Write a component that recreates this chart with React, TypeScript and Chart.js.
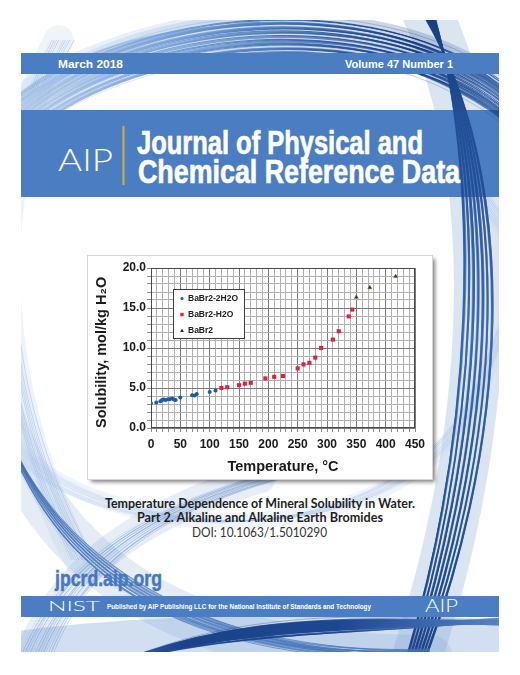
import React, { useEffect, useRef } from "react";
import { Chart, registerables } from "chart.js";

Chart.register(...registerables);

// ---------- data ----------
const dihydrateT = [0, 9, 16, 19, 22, 25, 29, 32, 36, 39, 42, 50, 70, 74, 78, 100, 110];
const dihydrateS = [3.1, 3.2, 3.35, 3.5, 3.55, 3.5, 3.6, 3.6, 3.7, 3.55, 3.5, 3.8, 4.1, 4.05, 4.25, 4.5, 4.7];

const monohydrateT = [120, 130, 150, 160, 170, 195, 210, 225, 250, 260, 270, 280, 290, 310, 320, 337, 343];
const monohydrateS = [5.0, 5.1, 5.35, 5.55, 5.65, 6.2, 6.4, 6.5, 7.45, 7.95, 8.15, 8.8, 10.0, 11.05, 12.1, 13.95, 14.8];

const anhydrousT = [350, 373, 417];
const anhydrousS = [16.35, 17.55, 18.95];

const seriesLabels = ["BaBr2-2H2O", "BaBr2-H2O", "BaBr2"];
const xTickLabels = [0, 50, 100, 150, 200, 250, 300, 350, 400, 450];
const yTickLabels = ["0.0", "5.0", "10.0", "15.0", "20.0"];

const FONT = "'Liberation Sans', Arial, Helvetica, sans-serif";
const GEO = "Lato, 'Noto Sans', sans-serif";

const BLUE = "#1f5c9e";
const RED = "#e0203c";
const DARK = "#2b2b22";
const BAND = "#4a7dc1";

const gridColor = (ctx: any) =>
  ctx.tick && Math.round(ctx.tick.value) % 50 === 0 ? "#7a7a7a" : "#b0b0b0";
const gridColorY = (ctx: any) =>
  ctx.tick && Math.round(ctx.tick.value) % 5 === 0 ? "#7a7a7a" : "#b0b0b0";

const frame = {
  id: "frame",
  beforeDatasetsDraw(chart: any) {
    const { ctx, chartArea: a } = chart;
    ctx.save();
    ctx.strokeStyle = "#4a4a4a";
    ctx.lineWidth = 1;
    ctx.strokeRect(Math.round(a.left) + 0.5, Math.round(a.top) + 0.5, Math.round(a.right - a.left) - 1, Math.round(a.bottom - a.top) - 1);
    ctx.restore();
  },
};

const legendBox = {
  id: "legendBox",
  afterDatasetsDraw(chart: any) {
    const { ctx, chartArea: a } = chart;
    const x = Math.round(a.left) + 22;
    const y = Math.round(a.top) + 21;
    const w = 71;
    const h = 49;
    ctx.save();
    ctx.fillStyle = "#ffffff";
    ctx.fillRect(x, y, w, h);
    ctx.strokeStyle = "#3c3c3c";
    ctx.lineWidth = 1;
    ctx.strokeRect(x + 0.5, y + 0.5, w, h);
    chart.data.datasets.forEach((ds: any, i: number) => {
      const cy = y + 9.5 + i * 16;
      const mx = x + 9;
      ctx.fillStyle = ds.backgroundColor;
      ctx.beginPath();
      if (ds.pointStyle === "circle") {
        ctx.arc(mx, cy, 1.6, 0, Math.PI * 2);
      } else if (ds.pointStyle === "rect") {
        ctx.rect(mx - 1.7, cy - 1.7, 3.4, 3.4);
      } else {
        ctx.moveTo(mx, cy - 2);
        ctx.lineTo(mx + 1.9, cy + 1.5);
        ctx.lineTo(mx - 1.9, cy + 1.5);
        ctx.closePath();
      }
      ctx.fill();
      ctx.fillStyle = "#222";
      ctx.font = `bold 8.5px ${FONT}`;
      ctx.textBaseline = "middle";
      ctx.textAlign = "left";
      ctx.fillText(ds.label, x + 15, cy);
    });
    ctx.restore();
  },
};

function SolubilityChart() {
  const ref = useRef<HTMLCanvasElement>(null);
  useEffect(() => {
    if (!ref.current) return;
    const chart = new Chart(ref.current, {
      type: "scatter",
      data: {
        datasets: [
          {
            label: seriesLabels[0],
            data: dihydrateT.map((t, i) => ({ x: t, y: dihydrateS[i] })),
            pointStyle: "circle",
            pointRadius: 2,
            backgroundColor: BLUE,
            borderColor: BLUE,
            borderWidth: 0,
          },
          {
            label: seriesLabels[1],
            data: monohydrateT.map((t, i) => ({ x: t, y: monohydrateS[i] })),
            pointStyle: "rect",
            pointRadius: 2.9,
            backgroundColor: RED,
            borderColor: RED,
            borderWidth: 0,
          },
          {
            label: seriesLabels[2],
            data: anhydrousT.map((t, i) => ({ x: t, y: anhydrousS[i] })),
            pointStyle: "triangle",
            pointRadius: 2.3,
            backgroundColor: DARK,
            borderColor: "#6b6b2a",
            borderWidth: 0.5,
          },
        ],
      } as any,
      options: {
        animation: false,
        responsive: false,
        layout: { padding: { left: 0, right: 17, top: 12, bottom: 0 } },
        plugins: { legend: { display: false }, tooltip: { enabled: false } },
        scales: {
          x: {
            type: "linear",
            min: 0,
            max: 450,
            afterFit: (s: any) => {
              s.height = 51;
            },
            ticks: {
              stepSize: 10,
              autoSkip: false,
              maxRotation: 0,
              padding: 5,
              color: "#1a1a1a",
              font: { family: FONT, size: 12, weight: "bold" },
              callback: (v: any) => (xTickLabels.includes(Math.round(v)) ? String(Math.round(v)) : ""),
            },
            grid: { color: gridColor, lineWidth: 1, tickLength: 4, tickColor: "#8a8a8a" },
            border: { display: false },
            title: {
              display: true,
              text: "Temperature, °C",
              color: "#1a1a1a",
              font: { family: FONT, size: 14.5, weight: "bold" },
              padding: { top: 0, bottom: 3 },
            },
          },
          y: {
            type: "linear",
            min: 0,
            max: 20,
            afterFit: (s: any) => {
              s.width = 63;
            },
            ticks: {
              stepSize: 1,
              autoSkip: false,
              padding: 1,
              color: "#1a1a1a",
              font: { family: FONT, size: 12, weight: "bold" },
              callback: (v: any) => {
                const n = Math.round(v);
                return n % 5 === 0 ? yTickLabels[n / 5] : "";
              },
            },
            grid: { color: gridColorY, lineWidth: 1, tickLength: 4, tickColor: "#8a8a8a" },
            border: { display: false },
            title: {
              display: true,
              text: "Solubility, mol/kg H₂O",
              align: "start",
              color: "#1a1a1a",
              font: { family: FONT, size: 14.5, weight: "bold" },
              padding: { top: 5, bottom: 0 },
            },
          },
        },
      } as any,
      plugins: [frame, legendBox],
    });
    return () => chart.destroy();
  }, []);
  return <canvas ref={ref} width={344} height={223} style={{ width: 344, height: 223, display: "block" }} />;
}

// ---------- decorative swirls of the cover ----------
const range = (n: number) => Array.from({ length: n }, (_, i) => i);
const jit = (i: number, m: number, r: number) => ((i * m) % r) - (r - 1) / 2;

const topPath = (i: number) => {
  const o = i * 1.25;
  const j = jit(i, 37, 11);
  return `M -20 ${150 + o} C 60 ${20 + o + j}, 300 ${-12 + o * 0.9}, 440 ${48 + o * 0.9 + j} S 525 ${165 + o}, 525 ${235 + o}`;
};
const topLeftPath = (i: number) => {
  const o = i * 2.2;
  const j = jit(i, 13, 9);
  return `M 10 ${110 - o * 0.3} C 60 ${70 - o * 0.5 + j}, 150 ${35 - o * 0.4}, 260 ${20 + o * 0.2}`;
};
const rightPath = (i: number) => {
  const o = i * 1.4;
  const j = jit(i, 29, 9);
  return `M ${420 + o * 0.3} 10 C ${522 - o} 170, ${520 - o + j} 440, ${410 - o * 0.4} 700`;
};
const bottomLeftPath = (i: number) => {
  const o = i * 2.0;
  const j = jit(i, 23, 13);
  return `M ${-10 + o * 0.3} ${380 + o} C ${30 + o * 0.6} 560, ${150 + o + j} ${665 - o * 0.3}, 430 ${655 + j}`;
};
const bottomPath = (i: number) => {
  const o = i * 1.2;
  const j = jit(i, 31, 11);
  return `M 40 ${705 - o * 0.5} C 200 ${598 + o * 0.7}, 380 ${618 + o * 0.5 + j}, 530 ${626 - o * 0.3}`;
};
const leftPath = (i: number) => {
  const o = i * 2.2;
  return `M ${50 + o} 40 C ${-25 + o * 0.5} 190, ${-15 + o * 0.6} 390, ${70 + o} 560`;
};
const innerPath = (i: number) => {
  const o = i * 2.5;
  return `M 10 ${430 + o} C 80 ${540 + o * 0.4}, 400 ${570 - o * 0.3}, 476 ${405 - o} S 496 ${250 - o}, 468 ${180 - o}`;
};
const cornerPath = (i: number) => {
  const o = i * 2.6;
  const j = jit(i, 17, 7);
  return `M ${15 + o} 665 C ${45 + o} 585, ${110 + o * 0.6 + j} 520, ${250 + o} 478`;
};

function Strands({ f, n, color, w0, w1, op }: { f: (i: number) => string; n: number; color: string; w0: number; w1: number; op: number }) {
  return (
    <g fill="none" stroke={color}>
      {range(n).map((i) => (
        <path key={i} d={f(i)} strokeWidth={w0 + ((i * 7) % 5) * ((w1 - w0) / 4)} strokeOpacity={Math.min(1, op * (0.55 + ((i * 3) % 5) * 0.12))} />
      ))}
    </g>
  );
}

function Swirls() {
  return (
    <g>
      {/* haze */}
      <g fill="none" strokeLinecap="round">
        <path d={topPath(12)} stroke="url(#gTop)" strokeWidth={40} strokeOpacity={0.22} />
        <path d={topLeftPath(4)} stroke="#a8c2e7" strokeWidth={30} strokeOpacity={0.25} />
        <path d={rightPath(14)} stroke="#4a7bc0" strokeWidth={50} strokeOpacity={0.2} />
        <path d={bottomLeftPath(10)} stroke="#5f8bca" strokeWidth={46} strokeOpacity={0.16} />
        <path d={cornerPath(4)} stroke="#6b93cd" strokeWidth={30} strokeOpacity={0.16} />
        <path d={leftPath(4)} stroke="#a9c3e8" strokeWidth={30} strokeOpacity={0.18} />
        <path d={innerPath(3)} stroke="#c2d5ee" strokeWidth={16} strokeOpacity={0.25} />
      </g>
      <path d="M 10 660 L 10 632 C 150 612, 350 612, 510 620 L 510 660 Z" fill="#7ea2d6" fillOpacity={0.35} />
      <Strands f={leftPath} n={12} color="#9dbbe4" w0={0.4} w1={1.2} op={0.75} />
      <Strands f={innerPath} n={9} color="#a6c1e7" w0={0.4} w1={1.0} op={0.65} />
      <Strands f={topLeftPath} n={14} color="#8fb0df" w0={0.4} w1={1.2} op={0.8} />
      <Strands f={topPath} n={32} color="url(#gTop)" w0={0.5} w1={2.2} op={1} />
      <Strands f={rightPath} n={32} color="url(#gRight)" w0={0.5} w1={2.2} op={0.95} />
      <Strands f={bottomLeftPath} n={24} color="#4373b9" w0={0.4} w1={1.6} op={0.7} />
      <Strands f={cornerPath} n={14} color="#6a93cd" w0={0.4} w1={1.2} op={0.6} />
      <Strands f={bottomPath} n={30} color="url(#gBottom)" w0={0.6} w1={2.6} op={1} />
    </g>
  );
}

function Cover() {
  return (
    <svg width={520} height={675} viewBox="0 0 520 675" style={{ position: "absolute", left: 0, top: 0 }}>
      <defs>
        <clipPath id="coverClip">
          <rect x={21} y={20} width={478} height={632} />
        </clipPath>
        <clipPath id="bandClip">
          <rect x={438} y={110} width={61} height={87} />
        </clipPath>
        <linearGradient id="gTop" gradientUnits="userSpaceOnUse" x1={0} y1={0} x2={520} y2={0}>
          <stop offset="0" stopColor="#b9cfec" />
          <stop offset="0.35" stopColor="#6c98d3" />
          <stop offset="0.6" stopColor="#2f5fa9" />
          <stop offset="0.8" stopColor="#123a80" />
          <stop offset="1" stopColor="#3f6fb6" />
        </linearGradient>
        <linearGradient id="gRight" gradientUnits="userSpaceOnUse" x1={0} y1={0} x2={0} y2={675}>
          <stop offset="0" stopColor="#163d83" />
          <stop offset="0.5" stopColor="#3465ad" />
          <stop offset="1" stopColor="#163d83" />
        </linearGradient>
        <linearGradient id="gBottom" gradientUnits="userSpaceOnUse" x1={0} y1={0} x2={520} y2={0}>
          <stop offset="0" stopColor="#7aa0d6" />
          <stop offset="0.35" stopColor="#1a428a" />
          <stop offset="0.65" stopColor="#1d4690" />
          <stop offset="1" stopColor="#5d89c8" />
        </linearGradient>
      </defs>
      <rect x={0} y={0} width={520} height={675} fill="#ffffff" />
      <g clipPath="url(#coverClip)">
        <Swirls />
        <rect x={21} y={53} width={478} height={21} fill={BAND} />
        <rect x={21} y={110} width={478} height={87} fill={BAND} />
        <g clipPath="url(#bandClip)" opacity={0.85}>
          <Strands f={topPath} n={32} color="#173f86" w0={0.5} w1={2.0} op={1} />
          <Strands f={rightPath} n={32} color="#1d4790" w0={0.5} w1={2.0} op={1} />
        </g>
        <rect x={21} y={596} width={478} height={21} fill={BAND} />
      </g>

      {/* top band text */}
      <text x={58} y={68} fill="#fff" fontFamily={FONT} fontWeight="bold" fontSize={11.5} textLength={65} lengthAdjust="spacingAndGlyphs">
        March 2018
      </text>
      <text x={345} y={68} fill="#fff" fontFamily={FONT} fontWeight="bold" fontSize={11.5} textLength={108} lengthAdjust="spacingAndGlyphs">
        Volume 47 Number 1
      </text>

      {/* title */}
      <text x={58} y={171} fill="#fff" fontFamily={GEO} fontWeight={300} fontSize={32} textLength={55} lengthAdjust="spacingAndGlyphs">
        AIP
      </text>
      <rect x={122.5} y={126} width={2} height={59} fill="#d8ad3d" />
      <text x={137} y={154} fill="#fff" stroke="#fff" strokeWidth={0.7} fontFamily={FONT} fontWeight="bold" fontSize={33.5} textLength={286} lengthAdjust="spacingAndGlyphs">
        Journal of Physical and
      </text>
      <text x={138} y={182.5} fill="#fff" stroke="#fff" strokeWidth={0.7} fontFamily={FONT} fontWeight="bold" fontSize={33.5} textLength={322} lengthAdjust="spacingAndGlyphs">
        Chemical Reference Data
      </text>

      {/* caption */}
      <text x={260} y={507.5} textAnchor="middle" fill="#1e1e1e" fontFamily={GEO} fontWeight="bold" fontSize={13.5} textLength={310} lengthAdjust="spacingAndGlyphs">
        Temperature Dependence of Mineral Solubility in Water.
      </text>
      <text x={260} y={522} textAnchor="middle" fill="#1e1e1e" fontFamily={GEO} fontWeight="bold" fontSize={13.5} textLength={246} lengthAdjust="spacingAndGlyphs">
        Part 2. Alkaline and Alkaline Earth Bromides
      </text>
      <text x={259.5} y={537} textAnchor="middle" fill="#333" fontFamily={GEO} fontWeight={400} fontSize={13.5} textLength={135} lengthAdjust="spacingAndGlyphs">
        DOI: 10.1063/1.5010290
      </text>

      {/* website */}
      <text x={55} y={586} fill="#4778bd" stroke="#4778bd" strokeWidth={0.5} fontFamily={FONT} fontWeight="bold" fontSize={22} textLength={107} lengthAdjust="spacingAndGlyphs">
        jpcrd.aip.org
      </text>

      {/* bottom band text */}
      <text x={48} y={611} fill="#fff" fontFamily={GEO} fontWeight={300} fontSize={14} textLength={52} lengthAdjust="spacingAndGlyphs">
        NIST
      </text>
      <text x={107} y={608.5} fill="#fff" fontFamily={FONT} fontWeight="bold" fontSize={7.5} textLength={264} lengthAdjust="spacingAndGlyphs">
        Published by AIP Publishing LLC for the National Institute of Standards and Technology
      </text>
      <text x={425} y={612} fill="#fff" fontFamily={GEO} fontWeight={300} fontSize={18} textLength={33} lengthAdjust="spacingAndGlyphs">
        AIP
      </text>
    </svg>
  );
}

export default function App() {
  return (
    <div style={{ position: "fixed", left: 0, top: 0, width: 520, height: 675, overflow: "hidden", background: "#fff" }}>
      <Cover />
      <div
        style={{
          position: "absolute",
          left: 88,
          top: 256,
          width: 344,
          height: 223,
          background: "#fff",
          boxShadow: "0 0 0 1px #d4d4d4, 3px 3px 4px rgba(0,0,0,0.5)",
        }}
      >
        <SolubilityChart />
      </div>
    </div>
  );
}
